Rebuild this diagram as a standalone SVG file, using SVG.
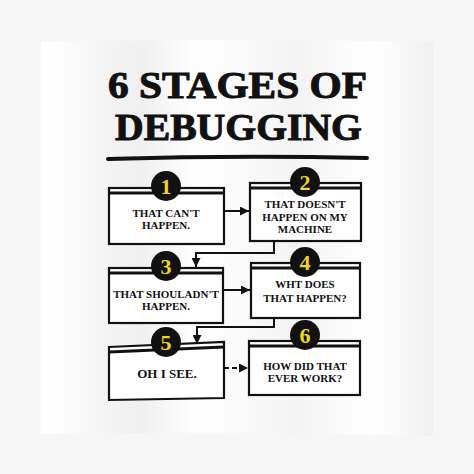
<svg xmlns="http://www.w3.org/2000/svg" width="474" height="474" viewBox="0 0 474 474">
<defs>
<linearGradient id="paper" x1="0" y1="0" x2="1" y2="0">
<stop offset="0" stop-color="#ffffff"/>
<stop offset="0.25" stop-color="#efefef"/>
<stop offset="0.4" stop-color="#ffffff"/>
<stop offset="0.65" stop-color="#f3f3f3"/>
<stop offset="0.85" stop-color="#ffffff"/>
<stop offset="1" stop-color="#f0f0f0"/>
</linearGradient>
<marker id="ah" viewBox="0 0 10 10" refX="10" refY="5" markerWidth="9" markerHeight="9" markerUnits="userSpaceOnUse" orient="auto">
<path d="M0,0 L10,5 L0,10 z" fill="#111"/>
</marker>
<style>
.title{font-family:"Liberation Serif","DejaVu Serif",serif;font-weight:bold;font-size:37.5px;fill:#111;stroke:#111;stroke-width:1;text-anchor:start}
.box{fill:#ffffff;stroke:#111;stroke-width:2.2}
.band{stroke:#111;stroke-width:3;fill:none}
.lbl{font-family:"Liberation Serif","DejaVu Serif",serif;font-weight:bold;font-size:11px;fill:#111;text-anchor:middle}
.big{font-size:13px}
.badge{fill:#111}
.num{font-family:"Liberation Serif","DejaVu Serif",serif;font-weight:bold;font-size:22px;fill:#f0d324;text-anchor:middle}
.conn{fill:none;stroke:#111;stroke-width:2}
</style>
</defs>
<rect x="0" y="0" width="474" height="474" fill="#f6f6f6"/>
<path d="M41,42 Q237,38 433,42 L433,436 Q237,430 41,434 Z" fill="url(#paper)"/>
<g id="title">
<text class="title" x="108" y="98" textLength="259" lengthAdjust="spacingAndGlyphs">6 STAGES OF</text>
<text class="title" x="115" y="140" textLength="247" lengthAdjust="spacingAndGlyphs">DEBUGGING</text>
<path d="M108,159 Q237,155 367,158" stroke="#111" stroke-width="4" fill="none" stroke-linecap="round"/>
</g>
<g id="connectors">
<path class="conn" d="M224,211 H249" marker-end="url(#ah)"/>
<path class="conn" d="M274,241 V253 H196 V267" marker-end="url(#ah)"/>
<path class="conn" d="M223,290 H250" marker-end="url(#ah)"/>
<path class="conn" d="M274,318 V327 H197 V344" marker-end="url(#ah)"/>
<path class="conn" d="M224,368 H248" stroke-dasharray="5,3" marker-end="url(#ah)"/>
</g>
<g id="stage1">
<rect class="box" x="109" y="188" width="115" height="56"/>
<line class="band" x1="109" y1="193" x2="224" y2="193"/>
<circle class="badge" cx="166" cy="186" r="15"/>
<text class="num" x="166" y="194">1</text>
<text class="lbl" x="166" y="217">THAT CAN'T</text>
<text class="lbl" x="166" y="229">HAPPEN.</text>
</g>
<g id="stage2">
<rect class="box" x="250" y="183" width="111" height="58"/>
<line class="band" x1="250" y1="188" x2="361" y2="188"/>
<circle class="badge" cx="305" cy="182" r="15"/>
<text class="num" x="305" y="190">2</text>
<text class="lbl" x="305" y="208">THAT DOESN'T</text>
<text class="lbl" x="305" y="221">HAPPEN ON MY</text>
<text class="lbl" x="305" y="233">MACHINE</text>
</g>
<g id="stage3">
<rect class="box" x="109" y="268" width="114" height="55"/>
<line class="band" x1="109" y1="273" x2="223" y2="273"/>
<circle class="badge" cx="166" cy="266" r="15"/>
<text class="num" x="166" y="274">3</text>
<text class="lbl" x="166" y="298">THAT SHOULADN'T</text>
<text class="lbl" x="166" y="310">HAPPEN.</text>
</g>
<g id="stage4">
<rect class="box" x="251" y="263" width="109" height="55"/>
<line class="band" x1="251" y1="268" x2="360" y2="268"/>
<circle class="badge" cx="305" cy="262" r="15"/>
<text class="num" x="305" y="270">4</text>
<text class="lbl" x="305" y="288">WHT DOES</text>
<text class="lbl" x="305" y="302">THAT HAPPEN?</text>
</g>
<g id="stage5">
<path class="box" d="M109,347 L224,342 L224,398 L109,400 Z"/>
<line class="band" x1="109" y1="352" x2="224" y2="347"/>
<circle class="badge" cx="166" cy="342" r="15"/>
<text class="num" x="166" y="350">5</text>
<text class="lbl big" x="167" y="378">OH I SEE.</text>
</g>
<g id="stage6">
<rect class="box" x="249" y="341" width="111" height="54"/>
<line class="band" x1="249" y1="346" x2="360" y2="346"/>
<circle class="badge" cx="305" cy="335" r="15"/>
<text class="num" x="305" y="343">6</text>
<text class="lbl" x="305" y="370">HOW DID THAT</text>
<text class="lbl" x="305" y="382">EVER WORK?</text>
</g>
</svg>
